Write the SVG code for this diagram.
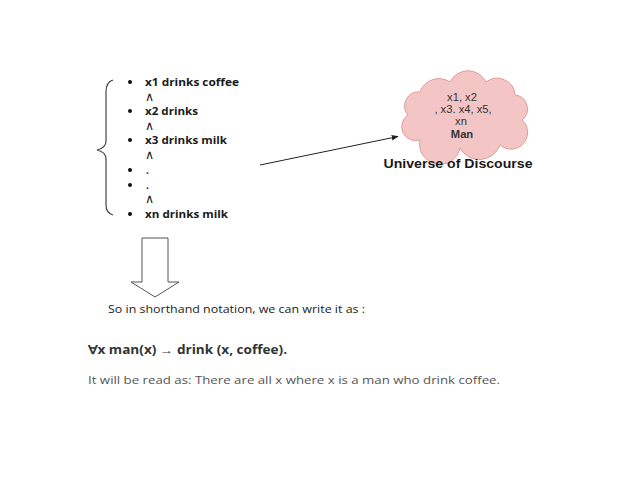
<svg xmlns="http://www.w3.org/2000/svg" width="638" height="478" viewBox="0 0 638 478">
<style>
.li{font-family:"Open Sans","Liberation Sans",sans-serif;font-size:10px;font-weight:bold;fill:#1a1a1a}
.ca{font-family:"DejaVu Sans",sans-serif;font-size:12.5px;fill:#1a1a1a}
.cl{font-family:"Liberation Sans",Arial,sans-serif;font-size:11.2px;fill:#333;text-anchor:middle}
.b{fill:#111}
.t{font-family:"Open Sans","Liberation Sans",sans-serif;font-size:10.5px;fill:#222}
</style>
<defs>
<marker id="ah" viewBox="0 0 10 10" refX="9" refY="5" markerWidth="7" markerHeight="7" orient="auto">
<path d="M0,1 L10,5 L0,9 Z" fill="#222"/>
</marker>
</defs>
<rect width="638" height="478" fill="#fff"/>
<g id="list">
<path d="M113,80 Q106,82 106,92 L106,141 Q106,148 97,150 Q106,152 106,159 L106,205 Q106,213 113,215" fill="none" stroke="#444" stroke-width="1.2"/>
<circle class="b" cx="130" cy="82" r="2"/>
<circle class="b" cx="130" cy="111" r="2"/>
<circle class="b" cx="130" cy="140" r="2"/>
<circle class="b" cx="130" cy="170" r="2"/>
<circle class="b" cx="130" cy="185" r="2"/>
<circle class="b" cx="130" cy="214" r="2"/>
<text class="li" x="145" y="86" textLength="94" lengthAdjust="spacingAndGlyphs">x1 drinks coffee</text>
<text class="ca" x="145" y="101">∧</text>
<text class="li" x="145" y="115" textLength="53" lengthAdjust="spacingAndGlyphs">x2 drinks</text>
<text class="ca" x="145" y="130">∧</text>
<text class="li" x="145" y="144" textLength="82" lengthAdjust="spacingAndGlyphs">x3 drinks milk</text>
<text class="ca" x="145" y="159">∧</text>
<text class="li" x="146" y="174">.</text>
<text class="li" x="146" y="189">.</text>
<text class="ca" x="145" y="203">∧</text>
<text class="li" x="145" y="218" textLength="83" lengthAdjust="spacingAndGlyphs">xn drinks milk</text>
</g>
<g id="cloud">
<path d="M420,140 A14,14 0 0 1 408,115 A14,14 0 0 1 420,92 A20,20 0 0 1 450,82 A20,20 0 0 1 486,82 A18,18 0 0 1 515,95 A14,14 0 0 1 522,120 A16,16 0 0 1 500,145 A22,22 0 0 1 460,148 A20,20 0 0 1 420,140 Z" fill="#f4c5c5" stroke="#e29a9a" stroke-width="1"/>
<text class="cl" x="462" y="100.5">x1, x2</text>
<text class="cl" x="463" y="112.5">, x3. x4, x5,</text>
<text class="cl" x="461" y="124.5">xn</text>
<text class="cl" x="462" y="137.5" font-weight="bold">Man</text>
<text x="458" y="168" font-family="Liberation Sans,Arial,sans-serif" font-size="12.5px" font-weight="bold" fill="#1a1a1a" text-anchor="middle" textLength="149" lengthAdjust="spacingAndGlyphs">Universe of Discourse</text>
</g>
<g id="connectors">
<line x1="260" y1="165" x2="398" y2="136.5" stroke="#222" stroke-width="1" marker-end="url(#ah)"/>
<path d="M142,238 L168,238 L168,282 L179,282 L155,297 L131,282 L142,282 Z" fill="#fff" stroke="#555" stroke-width="1"/>
</g>
<g id="texts">
<text class="t" x="108" y="313" textLength="257" lengthAdjust="spacingAndGlyphs">So in shorthand notation, we can write it as :</text>
<text x="88" y="354" font-family="Open Sans,Liberation Sans,sans-serif" font-size="11.5px" font-weight="bold" fill="#333" textLength="199" lengthAdjust="spacingAndGlyphs">∀x man(x) → drink (x, coffee).</text>
<text x="88" y="384" font-family="Open Sans,Liberation Sans,sans-serif" font-size="11.5px" fill="#555" textLength="412" lengthAdjust="spacingAndGlyphs">It will be read as: There are all x where x is a man who drink coffee.</text>
</g>
</svg>
